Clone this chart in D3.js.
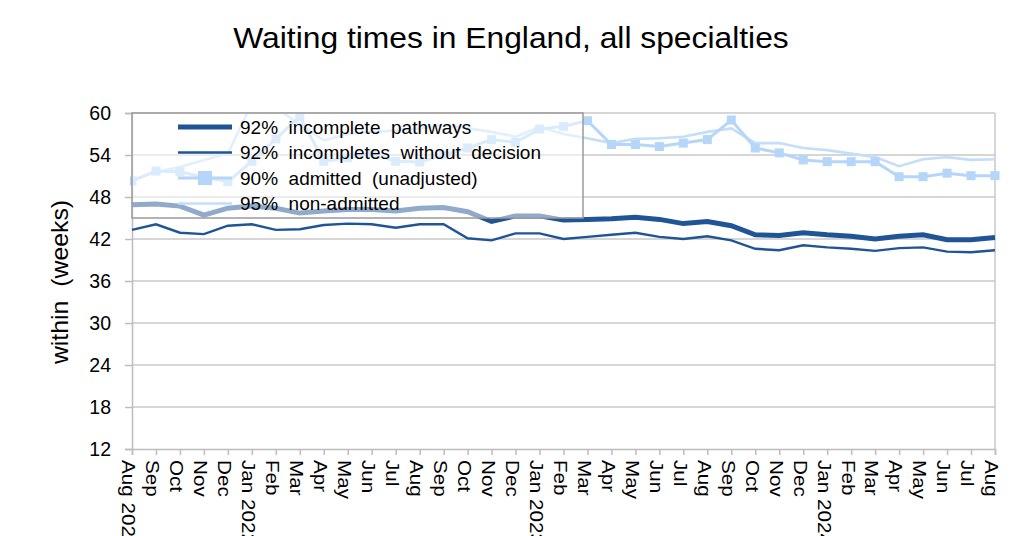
<!DOCTYPE html>
<html>
<head>
<meta charset="utf-8">
<script src="https://cdn.jsdelivr.net/npm/d3@7"></script>
<style>
  body { margin: 0; background: #fff; }
  text { font-family: "Liberation Sans", Arial, sans-serif; }
</style>
</head>
<body>
<div id="chart"></div>
<script>
const months = ["Aug 2021", "Sep", "Oct", "Nov", "Dec", "Jan 2022", "Feb", "Mar", "Apr", "May", "Jun", "Jul",
    "Aug", "Sep", "Oct", "Nov", "Dec", "Jan 2023", "Feb", "Mar", "Apr", "May", "Jun", "Jul",
    "Aug", "Sep", "Oct", "Nov", "Dec", "Jan 2024", "Feb", "Mar", "Apr", "May", "Jun", "Jul", "Aug"];

const incompletePathways = [46.9, 47.0, 46.7, 45.4, 46.4, 46.7, 46.4, 45.7, 46.0, 46.2, 46.2, 46.0,
    46.4, 46.5, 45.9, 44.5, 45.3, 45.3, 44.7, 44.8, 44.9, 45.1, 44.8, 44.2,
    44.5, 43.9, 42.6, 42.5, 42.9, 42.6, 42.4, 42.0, 42.4, 42.6, 41.9, 41.9, 42.2];

const withoutDecision = [43.3, 44.1, 42.9, 42.7, 43.9, 44.1, 43.3, 43.4, 44.0, 44.2, 44.1, 43.6,
    44.1, 44.1, 42.1, 41.8, 42.8, 42.8, 42.0, 42.3, 42.6, 42.9, 42.3, 42.0,
    42.4, 41.8, 40.6, 40.4, 41.1, 40.8, 40.6, 40.3, 40.7, 40.8, 40.2, 40.1, 40.4];

const admitted = [50.3, 51.7, 51.6, 50.8, 50.2, 53.1, 56.3, 59.5, 53.1, 53.6, 54.2, 53.1,
    53.0, 54.0, 55.0, 56.2, 55.8, 57.7, 58.1, 58.9, 55.5, 55.5, 55.2, 55.7,
    56.2, 59.0, 55.0, 54.3, 53.3, 53.05, 53.05, 53.05, 50.9, 50.9, 51.4, 51.05, 51.05];

const nonAdmitted = [50.4, 51.6, 52.3, 53.3, 54.2, 61.4, 60.7, 58.4, 56.1, 57.0, 57.3, 57.5,
    57.8, 58.3, 57.8, 57.3, 56.6, 58.0, 57.0, 56.4, 55.7, 56.3, 56.4, 56.6,
    57.3, 57.8, 55.7, 55.7, 55.0, 54.7, 54.2, 53.7, 52.4, 53.4, 53.7, 53.3, 53.4];

const yTicks = [12, 18, 24, 30, 36, 42, 48, 54, 60];

const seriesNames = ["92% incomplete pathways", "92% incompletes without decision",
    "90% admitted (unadjusted)", "95% non-admitted"];

const darkBlue = "#1f5596";
const lightBlue = "#b5d6f8";
const paleBlue = "#c4defa";

const margin = { top: 113, right: 29, bottom: 87, left: 132 };
const width = 1024 - margin.left - margin.right;
const height = 536 - margin.top - margin.bottom;

const svg = d3.select("#chart")
    .append("svg")
    .attr("width", 1024)
    .attr("height", 536);

svg.append("text")
    .attr("transform", "translate(511, 48) scale(1.06, 1)")
    .attr("text-anchor", "middle")
    .attr("font-size", 30)
    .text("Waiting times in England, all specialties");

svg.append("text")
    .attr("transform", "translate(68, 282) rotate(-90) scale(1.08, 1)")
    .attr("text-anchor", "middle")
    .attr("font-size", 23)
    .attr("xml:space", "preserve")
    .text("within  (weeks)");

const g = svg.append("g")
    .attr("transform", `translate(${margin.left}, ${margin.top})`);

const x = d3.scaleLinear().domain([0, months.length - 1]).range([0, width]);
const y = d3.scaleLinear().domain([12, 60]).range([height, 0]);

// gridlines
g.selectAll(".grid")
    .data(yTicks.slice(1))
    .join("line")
    .attr("x1", 0)
    .attr("x2", width)
    .attr("y1", d => y(d))
    .attr("y2", d => y(d))
    .attr("stroke", "#c8c8c8")
    .attr("stroke-width", 1.5);

g.append("line")
    .attr("x1", width).attr("x2", width)
    .attr("y1", 0).attr("y2", height)
    .attr("stroke", "#c8c8c8")
    .attr("stroke-width", 1.5);

// y axis
const yAxis = g.append("g")
    .call(d3.axisLeft(y).tickValues(yTicks).tickSize(7).tickPadding(14));
yAxis.select(".domain").attr("stroke", "#bdbdbd").attr("stroke-width", 1.5);
yAxis.selectAll(".tick line").attr("stroke", "#bdbdbd").attr("stroke-width", 1.5);
yAxis.selectAll(".tick text").attr("font-size", 19.5).attr("fill", "#000")
    .attr("font-family", "Liberation Sans, Arial, sans-serif");

// x axis
const xAxis = g.append("g")
    .attr("transform", `translate(0, ${height})`)
    .call(d3.axisBottom(x).tickValues(d3.range(months.length)).tickFormat(i => months[i]).tickSize(6));
xAxis.select(".domain").attr("stroke", "#bdbdbd").attr("stroke-width", 1.5);
xAxis.selectAll(".tick line").attr("stroke", "#bdbdbd").attr("stroke-width", 1.5);
xAxis.selectAll(".tick text")
    .attr("font-size", 17.5)
    .attr("fill", "#000")
    .attr("font-family", "Liberation Sans, Arial, sans-serif")
    .attr("text-anchor", "start")
    .attr("dy", "0.58em")
    .attr("transform", "translate(0, 11) rotate(90) scale(1.18, 1)")
    .attr("x", 0)
    .attr("y", 0);

const plot = g.append("g");
g.append("clipPath").attr("id", "clip")
    .append("rect").attr("x", -2).attr("y", 0).attr("width", width + 8).attr("height", height);
plot.attr("clip-path", "url(#clip)");

const line = d3.line()
    .x((d, i) => x(i))
    .y(d => y(d));

plot.append("path").datum(nonAdmitted)
    .attr("fill", "none").attr("stroke", paleBlue).attr("stroke-width", 2.6)
    .attr("d", line);

plot.append("path").datum(admitted)
    .attr("fill", "none").attr("stroke", lightBlue).attr("stroke-width", 3)
    .attr("d", line);

plot.selectAll(".sq")
    .data(admitted)
    .join("rect")
    .attr("x", (d, i) => x(i) - 4.5)
    .attr("y", d => y(d) - 4.5)
    .attr("width", 9)
    .attr("height", 9)
    .attr("fill", lightBlue);

plot.append("path").datum(withoutDecision)
    .attr("fill", "none").attr("stroke", darkBlue).attr("stroke-width", 2.4)
    .attr("d", line);

plot.append("path").datum(incompletePathways)
    .attr("fill", "none").attr("stroke", darkBlue).attr("stroke-width", 5)
    .attr("d", line);

// legend
const legend = g.append("g");
legend.append("rect")
    .attr("x", 0).attr("y", 0)
    .attr("width", 451).attr("height", 105)
    .attr("fill", "rgba(255,255,255,0.5)")
    .attr("stroke", "#9a9a9a")
    .attr("stroke-width", 1.5);

const legendStyles = [
    { stroke: darkBlue, width: 5, marker: false },
    { stroke: darkBlue, width: 2.6, marker: false },
    { stroke: lightBlue, width: 3, marker: true },
    { stroke: paleBlue, width: 2.6, marker: false }
];

seriesNames.forEach((name, i) => {
    const ly = 14 + i * 25.5;
    const s = legendStyles[i];
    legend.append("line")
        .attr("x1", 46).attr("x2", 100)
        .attr("y1", ly).attr("y2", ly)
        .attr("stroke", s.stroke).attr("stroke-width", s.width);
    if (s.marker) {
        legend.append("rect")
            .attr("x", 73 - 7).attr("y", ly - 7)
            .attr("width", 14).attr("height", 14)
            .attr("fill", s.stroke);
    }
    legend.append("text")
        .attr("x", 108).attr("y", ly)
        .attr("dy", "0.35em")
        .attr("font-size", 19)
        .attr("xml:space", "preserve")
        .text(name.replace(/ /g, "  "));
});
</script>
</body>
</html>
